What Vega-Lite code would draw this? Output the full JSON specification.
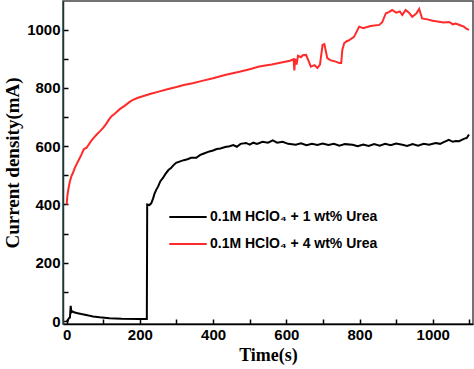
{
  "$schema": "https://vega.github.io/schema/vega-lite/v6.json",
  "width": 410,
  "height": 323,
  "autosize": {"type": "none"},
  "padding": {"left": 63, "top": 1, "right": 1, "bottom": 45},
  "background": "white",
  "config": {"view": {"stroke": "#444", "strokeWidth": 1.5}},
  "data": {"values": [
    {"t":0,"y":0,"s":"b"},{"t":3,"y":2,"s":"b"},{"t":6,"y":10,"s":"b"},{"t":9,"y":12,"s":"b"},{"t":11,"y":52,"s":"b"},{"t":13,"y":30,"s":"b"},{"t":16,"y":33,"s":"b"},{"t":20,"y":30,"s":"b"},{"t":30,"y":27,"s":"b"},{"t":40,"y":24,"s":"b"},{"t":50,"y":22,"s":"b"},{"t":60,"y":19,"s":"b"},{"t":72,"y":16,"s":"b"},{"t":90,"y":13,"s":"b"},{"t":117,"y":10,"s":"b"},{"t":150,"y":8,"s":"b"},{"t":199,"y":7,"s":"b"},{"t":219,"y":7,"s":"b"},{"t":220,"y":400,"s":"b"},{"t":226,"y":398,"s":"b"},{"t":231,"y":404,"s":"b"},{"t":236,"y":420,"s":"b"},{"t":240,"y":437,"s":"b"},{"t":245,"y":451,"s":"b"},{"t":250,"y":462,"s":"b"},{"t":256,"y":480,"s":"b"},{"t":263,"y":491,"s":"b"},{"t":270,"y":505,"s":"b"},{"t":278,"y":518,"s":"b"},{"t":285,"y":525,"s":"b"},{"t":292,"y":535,"s":"b"},{"t":299,"y":543,"s":"b"},{"t":310,"y":548,"s":"b"},{"t":320,"y":552,"s":"b"},{"t":330,"y":555,"s":"b"},{"t":340,"y":560,"s":"b"},{"t":354,"y":560,"s":"b"},{"t":365,"y":570,"s":"b"},{"t":375,"y":575,"s":"b"},{"t":390,"y":582,"s":"b"},{"t":400,"y":585,"s":"b"},{"t":410,"y":590,"s":"b"},{"t":420,"y":592,"s":"b"},{"t":433,"y":597,"s":"b"},{"t":445,"y":600,"s":"b"},{"t":455,"y":604,"s":"b"},{"t":465,"y":598,"s":"b"},{"t":475,"y":608,"s":"b"},{"t":490,"y":611,"s":"b"},{"t":500,"y":605,"s":"b"},{"t":510,"y":612,"s":"b"},{"t":520,"y":608,"s":"b"},{"t":535,"y":615,"s":"b"},{"t":550,"y":612,"s":"b"},{"t":563,"y":620,"s":"b"},{"t":575,"y":612,"s":"b"},{"t":590,"y":615,"s":"b"},{"t":605,"y":608,"s":"b"},{"t":626,"y":605,"s":"b"},{"t":640,"y":610,"s":"b"},{"t":655,"y":603,"s":"b"},{"t":670,"y":608,"s":"b"},{"t":685,"y":604,"s":"b"},{"t":699,"y":609,"s":"b"},{"t":715,"y":604,"s":"b"},{"t":730,"y":608,"s":"b"},{"t":745,"y":602,"s":"b"},{"t":760,"y":607,"s":"b"},{"t":781,"y":605,"s":"b"},{"t":795,"y":600,"s":"b"},{"t":810,"y":606,"s":"b"},{"t":825,"y":601,"s":"b"},{"t":840,"y":607,"s":"b"},{"t":855,"y":602,"s":"b"},{"t":870,"y":608,"s":"b"},{"t":885,"y":603,"s":"b"},{"t":900,"y":609,"s":"b"},{"t":917,"y":605,"s":"b"},{"t":930,"y":601,"s":"b"},{"t":945,"y":607,"s":"b"},{"t":960,"y":602,"s":"b"},{"t":975,"y":608,"s":"b"},{"t":990,"y":605,"s":"b"},{"t":1008,"y":611,"s":"b"},{"t":1020,"y":608,"s":"b"},{"t":1030,"y":614,"s":"b"},{"t":1044,"y":622,"s":"b"},{"t":1055,"y":615,"s":"b"},{"t":1063,"y":618,"s":"b"},{"t":1072,"y":617,"s":"b"},{"t":1085,"y":625,"s":"b"},{"t":1093,"y":628,"s":"b"},{"t":1099,"y":640,"s":"b"},
    {"t":0,"y":400,"s":"r"},{"t":2,"y":430,"s":"r"},{"t":5,"y":455,"s":"r"},{"t":9,"y":480,"s":"r"},{"t":13,"y":497,"s":"r"},{"t":17,"y":508,"s":"r"},{"t":22,"y":525,"s":"r"},{"t":28,"y":540,"s":"r"},{"t":34,"y":555,"s":"r"},{"t":40,"y":570,"s":"r"},{"t":47,"y":590,"s":"r"},{"t":54,"y":594,"s":"r"},{"t":60,"y":605,"s":"r"},{"t":67,"y":618,"s":"r"},{"t":75,"y":630,"s":"r"},{"t":82,"y":640,"s":"r"},{"t":90,"y":650,"s":"r"},{"t":99,"y":662,"s":"r"},{"t":107,"y":675,"s":"r"},{"t":115,"y":690,"s":"r"},{"t":122,"y":702,"s":"r"},{"t":132,"y":712,"s":"r"},{"t":145,"y":727,"s":"r"},{"t":160,"y":740,"s":"r"},{"t":172,"y":752,"s":"r"},{"t":181,"y":759,"s":"r"},{"t":195,"y":766,"s":"r"},{"t":210,"y":772,"s":"r"},{"t":230,"y":780,"s":"r"},{"t":254,"y":788,"s":"r"},{"t":275,"y":795,"s":"r"},{"t":300,"y":803,"s":"r"},{"t":320,"y":810,"s":"r"},{"t":344,"y":816,"s":"r"},{"t":370,"y":824,"s":"r"},{"t":400,"y":833,"s":"r"},{"t":435,"y":845,"s":"r"},{"t":472,"y":855,"s":"r"},{"t":500,"y":864,"s":"r"},{"t":526,"y":873,"s":"r"},{"t":560,"y":880,"s":"r"},{"t":590,"y":888,"s":"r"},{"t":610,"y":893,"s":"r"},{"t":620,"y":898,"s":"r"},{"t":622,"y":860,"s":"r"},{"t":624,"y":900,"s":"r"},{"t":628,"y":880,"s":"r"},{"t":632,"y":910,"s":"r"},{"t":640,"y":905,"s":"r"},{"t":645,"y":912,"s":"r"},{"t":654,"y":913,"s":"r"},{"t":660,"y":895,"s":"r"},{"t":667,"y":873,"s":"r"},{"t":677,"y":878,"s":"r"},{"t":685,"y":868,"s":"r"},{"t":692,"y":880,"s":"r"},{"t":699,"y":947,"s":"r"},{"t":704,"y":950,"s":"r"},{"t":712,"y":902,"s":"r"},{"t":720,"y":895,"s":"r"},{"t":735,"y":890,"s":"r"},{"t":745,"y":885,"s":"r"},{"t":750,"y":885,"s":"r"},{"t":753,"y":930,"s":"r"},{"t":758,"y":953,"s":"r"},{"t":765,"y":960,"s":"r"},{"t":772,"y":964,"s":"r"},{"t":785,"y":975,"s":"r"},{"t":799,"y":1010,"s":"r"},{"t":810,"y":1005,"s":"r"},{"t":830,"y":1012,"s":"r"},{"t":854,"y":1016,"s":"r"},{"t":862,"y":1025,"s":"r"},{"t":872,"y":1056,"s":"r"},{"t":880,"y":1060,"s":"r"},{"t":889,"y":1067,"s":"r"},{"t":900,"y":1058,"s":"r"},{"t":910,"y":1062,"s":"r"},{"t":917,"y":1050,"s":"r"},{"t":926,"y":1067,"s":"r"},{"t":935,"y":1058,"s":"r"},{"t":944,"y":1044,"s":"r"},{"t":955,"y":1055,"s":"r"},{"t":963,"y":1071,"s":"r"},{"t":971,"y":1038,"s":"r"},{"t":985,"y":1035,"s":"r"},{"t":1000,"y":1030,"s":"r"},{"t":1017,"y":1027,"s":"r"},{"t":1030,"y":1024,"s":"r"},{"t":1045,"y":1026,"s":"r"},{"t":1055,"y":1018,"s":"r"},{"t":1063,"y":1021,"s":"r"},{"t":1075,"y":1015,"s":"r"},{"t":1085,"y":1010,"s":"r"},{"t":1092,"y":1003,"s":"r"},{"t":1099,"y":999,"s":"r"}
  ]},
  "mark": {"type": "line", "strokeWidth": 2, "clip": true},
  "encoding": {
    "x": {
      "field": "t", "type": "quantitative",
      "scale": {"domain": [-10, 1110], "nice": false, "zero": false},
      "axis": {
        "title": "Time(s)", "titleFont": "Liberation Serif", "titleFontSize": 18, "titleFontWeight": "bold", "titleColor": "black", "titlePadding": 4,
        "values": [0,100,200,300,400,500,600,700,800,900,1000,1100],
        "labelExpr": "datum.value % 200 == 0 ? '' + datum.value : ''",
        "labelFont": "Liberation Sans", "labelFontSize": 15, "labelFontWeight": "bold", "labelColor": "black",
        "grid": false, "domainColor": "black", "domainWidth": 1.5, "tickColor": "black", "tickSize": -5, "tickWidth": 1.5, "labelPadding": 8
      }
    },
    "y": {
      "field": "y", "type": "quantitative",
      "scale": {"domain": [-10, 1098], "nice": false, "zero": false},
      "axis": {
        "title": "Current density(mA)", "titleFont": "Liberation Serif", "titleFontSize": 19, "titleFontWeight": "bold", "titleColor": "black", "titlePadding": 4,
        "values": [0,100,200,300,400,500,600,700,800,900,1000],
        "labelExpr": "datum.value % 200 == 0 ? '' + datum.value : ''",
        "labelFont": "Liberation Sans", "labelFontSize": 15, "labelFontWeight": "bold", "labelColor": "black",
        "grid": false, "domainColor": "#1a3a3a", "domainWidth": 1.5, "tickColor": "black", "tickSize": -5, "tickWidth": 1.5, "labelPadding": 8
      }
    },
    "color": {
      "field": "s", "type": "nominal",
      "scale": {"domain": ["b", "r"], "range": ["black", "#ff2a2a"]},
      "legend": {
        "orient": "none", "legendX": 105, "legendY": 196, "title": null,
        "labelExpr": "datum.value == 'b' ? '0.1M HClO₄ + 1 wt% Urea' : '0.1M HClO₄ + 4 wt% Urea'",
        "labelFont": "Liberation Sans", "labelFontSize": 14, "labelFontWeight": "bold", "labelColor": "black", "labelLimit": 400,
        "symbolType": "stroke", "symbolSize": 1400, "symbolStrokeWidth": 2, "rowPadding": -3, "labelOffset": 2
      }
    }
  }
}
